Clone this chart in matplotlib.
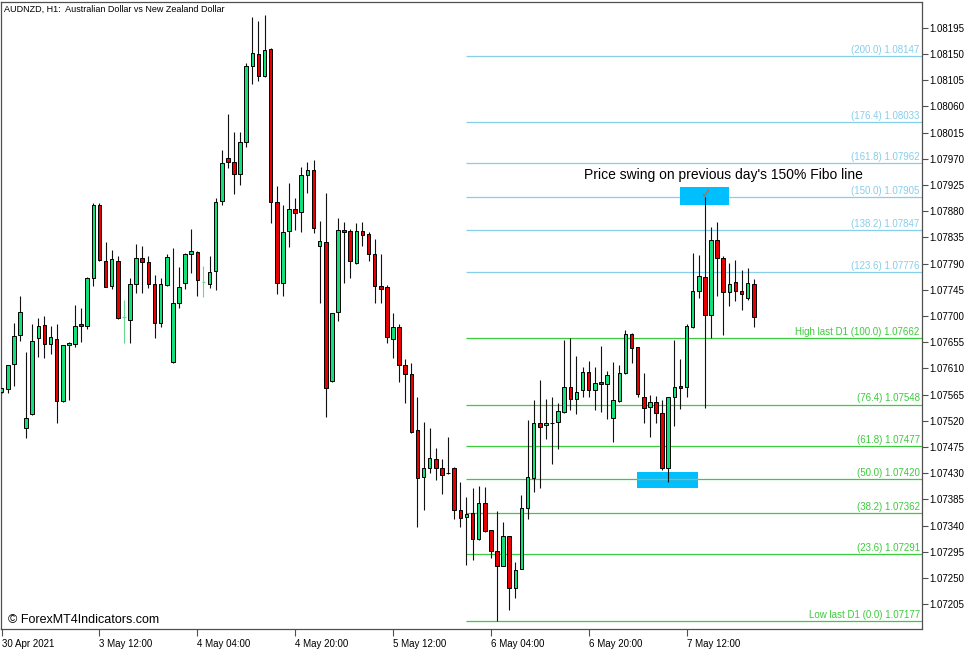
import matplotlib
matplotlib.use("Agg")
import matplotlib.pyplot as plt
import matplotlib.transforms as mtransforms
from matplotlib.patches import Rectangle

plt.rcParams['font.family'] = ['Liberation Sans', 'DejaVu Sans']

# ---------------- data (AUDNZD H1) ----------------
opens = [1.07570, 1.07575, 1.07618, 1.07667, 1.07508, 1.07532, 1.07662, 1.07685, 1.07652, 1.07661,
         1.07554, 1.07650, 1.07652, 1.07686, 1.07683, 1.07765, 1.07891, 1.07795, 1.07752, 1.07795,
         1.07698, 1.07693, 1.07755, 1.07800, 1.07793, 1.07755, 1.07688, 1.07753, 1.07621, 1.07722,
         1.07757, 1.07807, 1.07810, 1.07758, 1.07755, 1.07777, 1.07898, 1.07971, 1.07964, 1.07944,
         1.07999, 1.08129, 1.08150, 1.08112, 1.08159, 1.07896, 1.07757, 1.07846, 1.07884, 1.07879,
         1.07942, 1.07951, 1.07820, 1.07827, 1.07588, 1.07707, 1.07848, 1.07846, 1.07791, 1.07846,
         1.07841, 1.07807, 1.07752, 1.07750, 1.07661, 1.07681, 1.07616, 1.07600, 1.07504, 1.07424,
         1.07439, 1.07455, 1.07439, 1.07430, 1.07439, 1.07367, 1.07355, 1.07362, 1.07317, 1.07379,
         1.07333, 1.07297, 1.07271, 1.07322, 1.07233, 1.07266, 1.07370, 1.07422, 1.07516, 1.07513,
         1.07516, 1.07518, 1.07535, 1.07578, 1.07557, 1.07573, 1.07604, 1.07573, 1.07587, 1.07583,
         1.07525, 1.07554, 1.07602, 1.07669, 1.07647, 1.07561, 1.07544, 1.07552, 1.07534, 1.07439,
         1.07561, 1.07580, 1.07578, 1.07681, 1.07743, 1.07767, 1.07702, 1.07831, 1.07800, 1.07741,
         1.07758, 1.07743, 1.07731, 1.07755]
highs = [1.07576, 1.07616, 1.07688, 1.07734, 1.07638, 1.07686, 1.07697, 1.07700, 1.07683, 1.07686,
         1.07651, 1.07655, 1.07719, 1.07714, 1.07767, 1.07894, 1.07894, 1.07827, 1.07813, 1.07803,
         1.07728, 1.07765, 1.07824, 1.07820, 1.07803, 1.07770, 1.07765, 1.07807, 1.07817, 1.07784,
         1.07808, 1.07849, 1.07812, 1.07786, 1.07803, 1.07903, 1.07985, 1.08047, 1.08016, 1.08016,
         1.08134, 1.08213, 1.08207, 1.08217, 1.08160, 1.07923, 1.07891, 1.07928, 1.07903, 1.07956,
         1.07964, 1.07968, 1.07863, 1.07911, 1.07706, 1.07868, 1.07861, 1.07849, 1.07860, 1.07861,
         1.07844, 1.07832, 1.07807, 1.07753, 1.07705, 1.07686, 1.07626, 1.07619, 1.07561, 1.07518,
         1.07508, 1.07473, 1.07455, 1.07492, 1.07440, 1.07415, 1.07389, 1.07405, 1.07408, 1.07406,
         1.07333, 1.07365, 1.07346, 1.07323, 1.07278, 1.07393, 1.07521, 1.07556, 1.07590, 1.07557,
         1.07561, 1.07551, 1.07659, 1.07662, 1.07631, 1.07612, 1.07623, 1.07612, 1.07648, 1.07606,
         1.07621, 1.07616, 1.07676, 1.07671, 1.07647, 1.07602, 1.07564, 1.07563, 1.07556, 1.07561,
         1.07659, 1.07626, 1.07686, 1.07808, 1.07805, 1.07905, 1.07853, 1.07861, 1.07803, 1.07791,
         1.07796, 1.07779, 1.07782, 1.07764]
lows = [1.07568, 1.07568, 1.07580, 1.07657, 1.07491, 1.07530, 1.07630, 1.07628, 1.07635, 1.07516,
        1.07553, 1.07556, 1.07647, 1.07655, 1.07678, 1.07752, 1.07795, 1.07749, 1.07746, 1.07695,
        1.07654, 1.07654, 1.07740, 1.07740, 1.07748, 1.07662, 1.07681, 1.07752, 1.07620, 1.07714,
        1.07746, 1.07774, 1.07734, 1.07733, 1.07748, 1.07745, 1.07891, 1.07954, 1.07910, 1.07925,
        1.07990, 1.08098, 1.08104, 1.08111, 1.07860, 1.07738, 1.07734, 1.07819, 1.07848, 1.07844,
        1.07911, 1.07843, 1.07722, 1.07527, 1.07587, 1.07691, 1.07757, 1.07765, 1.07790, 1.07820,
        1.07795, 1.07722, 1.07722, 1.07654, 1.07628, 1.07587, 1.07551, 1.07499, 1.07338, 1.07367,
        1.07430, 1.07418, 1.07394, 1.07428, 1.07351, 1.07338, 1.07273, 1.07281, 1.07316, 1.07330,
        1.07285, 1.07177, 1.07270, 1.07195, 1.07216, 1.07265, 1.07351, 1.07398, 1.07405, 1.07489,
        1.07446, 1.07472, 1.07534, 1.07539, 1.07532, 1.07561, 1.07561, 1.07539, 1.07535, 1.07523,
        1.07484, 1.07553, 1.07601, 1.07619, 1.07561, 1.07516, 1.07492, 1.07516, 1.07436, 1.07415,
        1.07511, 1.07540, 1.07561, 1.07680, 1.07731, 1.07542, 1.07662, 1.07734, 1.07667, 1.07717,
        1.07726, 1.07710, 1.07728, 1.07681]
closes = [1.07576, 1.07616, 1.07666, 1.07707, 1.07525, 1.07657, 1.07683, 1.07652, 1.07664, 1.07554,
          1.07650, 1.07654, 1.07683, 1.07683, 1.07765, 1.07891, 1.07796, 1.07750, 1.07798, 1.07697,
          1.07698, 1.07755, 1.07800, 1.07793, 1.07755, 1.07688, 1.07755, 1.07801, 1.07722, 1.07750,
          1.07807, 1.07812, 1.07762, 1.07758, 1.07776, 1.07896, 1.07963, 1.07964, 1.07944, 1.07999,
          1.08129, 1.08152, 1.08112, 1.08157, 1.07896, 1.07757, 1.07844, 1.07884, 1.07877, 1.07942,
          1.07951, 1.07851, 1.07829, 1.07576, 1.07705, 1.07848, 1.07844, 1.07795, 1.07846, 1.07839,
          1.07807, 1.07752, 1.07746, 1.07664, 1.07681, 1.07616, 1.07600, 1.07501, 1.07422, 1.07439,
          1.07456, 1.07439, 1.07427, 1.07430, 1.07367, 1.07353, 1.07360, 1.07317, 1.07379, 1.07331,
          1.07297, 1.07271, 1.07322, 1.07233, 1.07264, 1.07370, 1.07424, 1.07516, 1.07509, 1.07516,
          1.07516, 1.07537, 1.07578, 1.07557, 1.07570, 1.07604, 1.07573, 1.07585, 1.07583, 1.07599,
          1.07556, 1.07602, 1.07669, 1.07645, 1.07566, 1.07542, 1.07552, 1.07534, 1.07439, 1.07561,
          1.07578, 1.07577, 1.07683, 1.07743, 1.07769, 1.07702, 1.07831, 1.07800, 1.07741, 1.07755,
          1.07743, 1.07738, 1.07757, 1.07698]
green_doji = [20, 33]

time_tick_bars = [0, 16, 32, 48, 64, 80, 96, 112]
time_tick_labels = ['30 Apr 2021', '3 May 12:00', '4 May 04:00', '4 May 20:00',
                    '5 May 12:00', '6 May 04:00', '6 May 20:00', '7 May 12:00']

price_ticks = [1.07205, 1.07250, 1.07295, 1.07340, 1.07385, 1.07430, 1.07475, 1.07520,
               1.07565, 1.07610, 1.07655, 1.07700, 1.07745, 1.07790, 1.07835, 1.07880,
               1.07925, 1.07970, 1.08015, 1.08060, 1.08105, 1.08150, 1.08195]
price_tick_labels = ['1.07205', '1.07250', '1.07295', '1.07340', '1.07385', '1.07430',
                     '1.07475', '1.07520', '1.07565', '1.07610', '1.07655', '1.07700',
                     '1.07745', '1.07790', '1.07835', '1.07880', '1.07925', '1.07970',
                     '1.08015', '1.08060', '1.08105', '1.08150', '1.08195']

fib_pct = [200.0, 176.4, 161.8, 150.0, 138.2, 123.6, 100.0, 76.4, 61.8, 50.0, 38.2, 23.6, 0.0]
fib_prices = [1.08147, 1.08033, 1.07962, 1.07905, 1.07847, 1.07776, 1.07662,
              1.07548, 1.07477, 1.07420, 1.07362, 1.07291, 1.07177]
fib_labels = ['(200.0) 1.08147', '(176.4) 1.08033', '(161.8) 1.07962', '(150.0) 1.07905',
              '(138.2) 1.07847', '(123.6) 1.07776', 'High last D1 (100.0) 1.07662',
              '(76.4) 1.07548', '(61.8) 1.07477', '(50.0) 1.07420', '(38.2) 1.07362',
              '(23.6) 1.07291', 'Low last D1 (0.0) 1.07177']
fib_start_bar = 76   # 6 May 00:00

# highlight boxes (bar range, price range)
box_bars = [(110.9, 118.95), (103.96, 113.8)]
box_prices = [(1.07891, 1.07921), (1.07405, 1.07432)]

# ---------------- figure ----------------
BULL = '#12E07A'
BEAR = '#E80000'
BLUE = '#87CEEB'
GREEN = '#3CCB3C'

fig = plt.figure(figsize=(9.77, 6.5), dpi=100)
ax = fig.add_axes([1/977, 21/650, 921/977, 627/650])
ax.set_xlim(-0.1, 150.5)
ax.set_ylim(1.071626, 1.082392)

trans = mtransforms.blended_transform_factory(ax.transAxes, ax.transData)
for pct, pr, lab in zip(fib_pct, fib_prices, fib_labels):
    col = BLUE if pct > 100 else GREEN
    ax.hlines(pr, fib_start_bar - 0.1, 150.5, color=col, lw=0.9, zorder=1)
    ax.text(0.9975, pr + 0.000018, lab, transform=trans, ha='right', va='bottom',
            fontsize=7, color=col, zorder=6)

for (b0, b1), (p0, p1) in zip(box_bars, box_prices):
    ax.add_patch(Rectangle((b0, p0), b1 - b0, p1 - p0, facecolor='#00BFFF',
                           edgecolor='none', zorder=2))
ax.hlines(fib_prices[9], box_bars[1][0], box_bars[1][1], color='#CFA060', lw=1.0, zorder=2.5)

idx = list(range(len(opens)))
normal = [i for i in idx if i not in green_doji]
ax.vlines([i for i in normal], [lows[i] for i in normal], [highs[i] for i in normal],
          color='#111111', lw=0.8, zorder=3)
ax.vlines(green_doji, [lows[i] for i in green_doji], [highs[i] for i in green_doji],
          color='#66D98F', lw=0.8, zorder=3)
ax.hlines([opens[i] for i in green_doji], [i - 0.3 for i in green_doji],
          [i + 0.3 for i in green_doji], color='#66D98F', lw=0.9, zorder=4)

cols = [BULL if closes[i] >= opens[i] else BEAR for i in normal]
ax.bar(normal, [closes[i] - opens[i] for i in normal], bottom=[opens[i] for i in normal],
       width=0.58, color=cols, edgecolor='black', linewidth=0.7, zorder=4)

# annotations
ax.text(118.0, 1.07942, "Price swing on previous day's 150% Fibo line", ha='center',
        va='center', fontsize=10, color='black', zorder=6)
ax.text(115.0, 1.07908, '\u2713', ha='center', va='center', fontsize=9,
        color='#D0602A', family='DejaVu Sans', zorder=6)

# axes styling
for s in ax.spines.values():
    s.set_color('#505050')
    s.set_linewidth(0.9)
ax.yaxis.tick_right()
ax.set_yticks(price_ticks)
ax.set_yticklabels(price_tick_labels)
ax.tick_params(axis='y', direction='out', length=4, width=0.8, pad=1.5,
               labelsize=7, colors='#505050', labelcolor='black')
ax.set_xticks(time_tick_bars)
ax.set_xticklabels(time_tick_labels, ha='left')
ax.tick_params(axis='x', direction='out', length=5, width=0.8, pad=2,
               labelsize=7, colors='#505050', labelcolor='black')

fig.text(4/977, 1 - 9/650, 'AUDNZD, H1:  Australian Dollar vs New Zealand Dollar',
         ha='left', va='center', fontsize=6.5, color='black')
fig.text(8/977, 1 - 620/650, '\u00a9 ForexMT4Indicators.com', ha='left', va='center',
         fontsize=9, color='black')

fig.savefig('out.png', dpi=100)
